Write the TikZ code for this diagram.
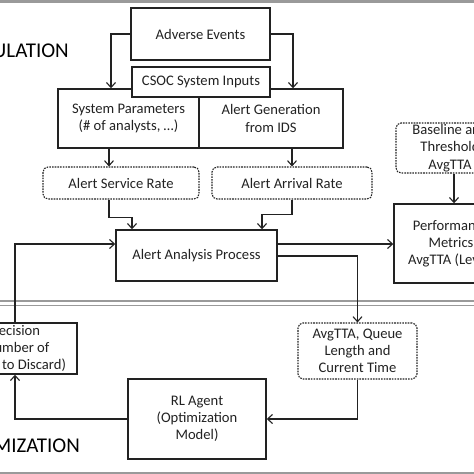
\documentclass[tikz,border=0pt]{standalone}
\usepackage{fontspec}
\setmainfont{Carlito}
\usetikzlibrary{arrows.meta,calc}
\definecolor{ink}{HTML}{222222}
\definecolor{sep}{HTML}{9A9A9A}
\tikzset{
  x=1pt,y=-1pt,
  box/.style={draw=ink,line width=1.4pt,fill=white,align=center,inner sep=0pt,font=\fontsize{14.6}{17.2}\selectfont,text=ink},
  dbox/.style={box,rounded corners=5pt,line width=1.1pt,dash pattern=on 1.6pt off 1.1pt},
  conn/.style={draw=ink,line width=1.25pt},
  arr/.style={conn,-{Straight Barb[length=5pt,width=9pt,line width=1.1pt]}},
  title/.style={font=\fontsize{21}{24}\selectfont,text=black,inner sep=0pt}
}
\newcommand{\rbox}[5]{\node[#1,minimum width=#4-#2,minimum height=#5-#3] at ({(#2+#4)/2},{(#3+#5)/2})}
\begin{document}
\begin{tikzpicture}
\useasboundingbox (0,0) rectangle (474,474);
\clip (0,0) rectangle (474,474);
\fill[white] (0,0) rectangle (474,474);
% bands
\fill[sep] (0,0) rectangle (474,2.5);
\fill[sep] (0,471.5) rectangle (474,474);
\draw[sep,line width=1.4pt] (0,301) -- (474,301);
\draw[sep,line width=1.4pt] (0,305.5) -- (474,305.5);
% titles
\node[title,anchor=base east] (sim) at (69,57) {SIMULATION};
\node[title,anchor=base east] (opt) at (80,452) {OPTIMIZATION};
% boxes
\rbox{box}{131}{8}{270}{60} (AE) {Adverse Events};
\rbox{box}{58}{89}{199}{148} (SP) {System Parameters\\(\# of analysts, …)};
\rbox{box}{199}{89}{343}{148} (AG) {Alert Generation\\from IDS};
\rbox{box}{132}{67}{270}{97} (CS) {CSOC System Inputs};
\rbox{dbox}{43}{167}{199}{199} (ASR) {Alert Service Rate};
\rbox{dbox}{212}{167}{372}{199} (AAR) {Alert Arrival Rate};
\rbox{box}{116}{230}{277}{281} (AAP) {Alert Analysis Process};
\rbox{dbox}{396}{123}{504}{173} (BASE) {Baseline and\\Threshold\\AvgTTA};
\rbox{box}{394}{204}{508}{283} (PERF) {Performance\\Metrics\\AvgTTA (Level)};
\rbox{dbox}{298}{323}{417}{379} (AQ) {AvgTTA, Queue\\Length and\\Current Time};
\rbox{box}{128}{379}{266}{459} (RL) {RL Agent\\(Optimization\\Model)};
\rbox{box}{-47}{323}{77}{374} (DEC) {Decision\\(Number of\\Alerts to Discard)};
% connectors
\draw[arr] (AE.west) -| ([xshift=-17.5pt]SP.north);
\draw[arr] (AE.east) -| ([xshift=22pt]AG.north);
\draw[arr] ([xshift=-19.5pt]SP.south) -- ([xshift=-19.5pt]SP.south |- ASR.north);
\draw[arr] (AG.south -| AAR.north) -- (AAR.north);
\draw[arr] ([xshift=-12pt]ASR.south) -- ++(0,18) -| ([xshift=-64.5pt]AAP.north);
\draw[arr] (AAR.south) -- ++(0,15) -| ([xshift=65.5pt]AAP.north);
\draw[arr] ([yshift=11.5pt]AAP.east) -- ([yshift=11.5pt]AAP.east -| PERF.west);
\draw[arr] ([yshift=-0.5pt]AAP.east) -| (AQ.north);
\draw[arr] (AQ.south) |- (RL.east);
\draw[arr] (RL.west) -| (DEC.south);
\draw[arr] (DEC.north) |- ([yshift=11.5pt]AAP.west);
\draw[arr] ([xshift=4pt]BASE.south) -- ([xshift=4pt]BASE.south |- PERF.north);
\end{tikzpicture}
\end{document}
